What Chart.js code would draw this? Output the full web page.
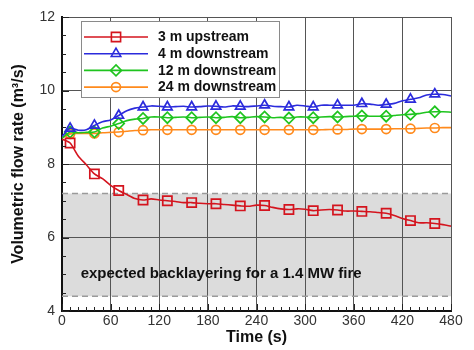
<!DOCTYPE html>
<html>
<head>
<meta charset="utf-8">
<script src="https://cdn.jsdelivr.net/npm/chart.js@4.4.1/dist/chart.umd.min.js"></script>
<style>
  html, body { margin: 0; padding: 0; background: #fff; }
  #wrap { width: 474px; height: 350px; }
</style>
</head>
<body>
<div id="wrap"><canvas id="chartCaudal"></canvas></div>
<script>
// ---------------------------------------------------------------
// Datos (tiempo en s, caudal en m3/s)
// ---------------------------------------------------------------
const times = [0, 10, 20, 30, 40, 50, 60, 70, 80, 90, 100, 110, 120, 130, 140, 150, 160,
    170, 180, 190, 200, 210, 220, 230, 240, 250, 260, 270, 280, 290, 300, 310, 320,
    330, 340, 350, 360, 370, 380, 390, 400, 410, 420, 430, 440, 450, 460, 470, 480];

const upstream3m = [8.68, 8.57, 8.22, 7.98, 7.73, 7.6, 7.42, 7.28, 7.17, 7.06, 7.02, 7.05,
    7.02, 7.0, 6.98, 6.95, 6.95, 6.93, 6.92, 6.92, 6.9, 6.88, 6.86, 6.85, 6.88, 6.87,
    6.82, 6.78, 6.76, 6.78, 6.77, 6.73, 6.75, 6.76, 6.75, 6.72, 6.72, 6.71, 6.7, 6.68,
    6.66, 6.6, 6.52, 6.46, 6.4, 6.4, 6.38, 6.35, 6.31];

const downstream4m = [8.75, 8.97, 8.92, 8.93, 9.05, 9.15, 9.2, 9.32, 9.45, 9.52, 9.55, 9.58,
    9.57, 9.55, 9.56, 9.57, 9.55, 9.56, 9.58, 9.57, 9.55, 9.58, 9.57, 9.56, 9.58, 9.6,
    9.57, 9.56, 9.55, 9.6, 9.58, 9.55, 9.6, 9.6, 9.6, 9.6, 9.6, 9.64, 9.63, 9.6,
    9.62, 9.65, 9.72, 9.76, 9.8, 9.88, 9.9, 9.89, 9.85];

const downstream12m = [8.7, 8.87, 8.85, 8.86, 8.87, 8.98, 9.03, 9.1, 9.18, 9.22, 9.24, 9.28,
    9.28, 9.26, 9.27, 9.28, 9.26, 9.27, 9.28, 9.26, 9.27, 9.29, 9.26, 9.27, 9.29, 9.28,
    9.26, 9.27, 9.25, 9.28, 9.28, 9.26, 9.28, 9.29, 9.28, 9.29, 9.3, 9.31, 9.3, 9.3,
    9.3, 9.32, 9.34, 9.35, 9.37, 9.41, 9.42, 9.42, 9.41];

const downstream24m = [8.72, 8.82, 8.83, 8.83, 8.83, 8.85, 8.86, 8.87, 8.89, 8.91, 8.92, 8.93,
    8.93, 8.93, 8.93, 8.93, 8.93, 8.93, 8.93, 8.93, 8.93, 8.93, 8.93, 8.93, 8.93, 8.93,
    8.93, 8.93, 8.93, 8.93, 8.93, 8.93, 8.93, 8.94, 8.94, 8.94, 8.95, 8.95, 8.95, 8.95,
    8.95, 8.96, 8.96, 8.96, 8.97, 8.98, 8.98, 8.99, 8.99];

// marcadores cada 30 s empezando en 10 s
const markerTimes = [10, 40, 70, 100, 130, 160, 190, 220, 250, 280, 310, 340, 370, 400, 430, 460];

const seriesLabels = ['3 m upstream', '4 m downstream', '12 m downstream', '24 m downstream'];

// banda de backlayering esperado
const bandTimes = [0, 480];
const bandUpper = [7.2, 7.2];
const bandLower = [4.4, 4.4];
const bandText = 'expected backlayering for a 1.4 MW fire';
const bandTextPos = [23, 5.0];

const xTicks = [0, 60, 120, 180, 240, 300, 360, 420, 480];
const yTicks = [4, 6, 8, 10, 12];

// ---------------------------------------------------------------
// Helpers
// ---------------------------------------------------------------
const FONT = "'Liberation Sans', Arial, Helvetica, sans-serif";

function toPoints(xs, ys) {
    return xs.map((x, i) => ({ x: x, y: ys[i] }));
}

function markerRadius(r) {
    return times.map(t => markerTimes.includes(t) ? r : 0);
}

function serie(label, values, color, style, radius) {
    return {
        label: label,
        data: toPoints(times, values),
        borderColor: color,
        borderWidth: 1.6,
        backgroundColor: 'transparent',
        pointStyle: style,
        pointRadius: markerRadius(radius),
        pointHoverRadius: 0,
        pointBorderColor: color,
        pointBackgroundColor: 'transparent',
        pointBorderWidth: 1.7,
        tension: 0.25,
        fill: false,
        order: 1
    };
}

// marcador manual para la leyenda
function drawMarker(ctx, style, x, y, r) {
    ctx.beginPath();
    if (style === 'rect') {
        const s = Math.SQRT1_2 * r;
        ctx.rect(x - s, y - s, 2 * s, 2 * s);
    } else if (style === 'triangle') {
        ctx.moveTo(x, y - r);
        ctx.lineTo(x + r * Math.sin(Math.PI / 3 * 2), y + r * 0.5);
        ctx.lineTo(x - r * Math.sin(Math.PI / 3 * 2), y + r * 0.5);
        ctx.closePath();
    } else if (style === 'rectRot') {
        ctx.moveTo(x, y - r);
        ctx.lineTo(x + r, y);
        ctx.lineTo(x, y + r);
        ctx.lineTo(x - r, y);
        ctx.closePath();
    } else {
        ctx.arc(x, y, r, 0, Math.PI * 2);
    }
    ctx.stroke();
}

// ---------------------------------------------------------------
// Plugins
// ---------------------------------------------------------------
const minorTicksPlugin = {
    id: 'minorTicks',
    afterDatasetsDraw(chart) {
        const { ctx, scales: { x, y }, chartArea: a } = chart;
        ctx.save();
        ctx.strokeStyle = '#222';
        ctx.lineWidth = 1;
        for (let v = 4; v <= 12; v += 0.5) {
            const py = Math.round(y.getPixelForValue(v)) + 0.5;
            const len = (v % 2 === 0) ? 7 : 4;
            ctx.beginPath();
            ctx.moveTo(a.left, py);
            ctx.lineTo(a.left + len, py);
            ctx.stroke();
        }
        for (let t = 0; t <= 480; t += 10) {
            const px = Math.round(x.getPixelForValue(t)) + 0.5;
            const len = (t % 60 === 0) ? 7 : 4;
            ctx.beginPath();
            ctx.moveTo(px, a.bottom);
            ctx.lineTo(px, a.bottom - len);
            ctx.stroke();
        }
        ctx.restore();
    }
};

const bandTextPlugin = {
    id: 'bandText',
    afterDatasetsDraw(chart) {
        const { ctx, scales: { x, y } } = chart;
        ctx.save();
        ctx.font = 'bold 15px ' + FONT;
        ctx.fillStyle = '#111';
        ctx.textAlign = 'left';
        ctx.textBaseline = 'middle';
        ctx.fillText(bandText, x.getPixelForValue(bandTextPos[0]), y.getPixelForValue(bandTextPos[1]));
        ctx.restore();
    }
};

const legendPlugin = {
    id: 'boxLegend',
    afterDraw(chart) {
        const ctx = chart.ctx;
        const box = { x: 81, y: 21, w: 198, h: 76 };
        ctx.save();
        ctx.fillStyle = '#fff';
        ctx.fillRect(box.x, box.y, box.w, box.h);
        ctx.strokeStyle = '#8a8a8a';
        ctx.lineWidth = 1;
        ctx.strokeRect(box.x + 0.5, box.y + 0.5, box.w, box.h);
        ctx.font = 'bold 14px ' + FONT;
        ctx.textBaseline = 'middle';
        ctx.textAlign = 'left';
        chart.data.datasets.slice(0, 4).forEach((ds, i) => {
            const yy = 37 + i * 16.7;
            ctx.strokeStyle = ds.borderColor;
            ctx.lineWidth = 1.6;
            ctx.beginPath();
            ctx.moveTo(84, yy);
            ctx.lineTo(148, yy);
            ctx.stroke();
            const r = Math.max.apply(null, ds.pointRadius);
            ctx.fillStyle = '#fff';
            drawMarker(ctx, ds.pointStyle, 116, yy, r);
            ctx.fillStyle = '#111';
            ctx.fillText(ds.label, 158, yy + 0.5);
        });
        ctx.restore();
    }
};

// ---------------------------------------------------------------
// Grafico
// ---------------------------------------------------------------
function initChart() {
    const canvas = document.getElementById('chartCaudal');

    new Chart(canvas.getContext('2d'), {
        type: 'line',
        data: {
            datasets: [
                serie(seriesLabels[0], upstream3m, '#d4141e', 'rect', 6.5),
                serie(seriesLabels[1], downstream4m, '#2b2bdc', 'triangle', 5.5),
                serie(seriesLabels[2], downstream12m, '#1fc41f', 'rectRot', 5.5),
                serie(seriesLabels[3], downstream24m, '#ff8a1c', 'circle', 4.5),
                {
                    label: 'band upper',
                    data: toPoints(bandTimes, bandUpper),
                    borderColor: '#9a9a9a',
                    borderWidth: 1.5,
                    borderDash: [6, 4],
                    backgroundColor: '#dcdcdc',
                    pointRadius: 0,
                    fill: { value: 4.4 },
                    order: 5
                },
                {
                    label: 'band lower',
                    data: toPoints(bandTimes, bandLower),
                    borderColor: '#9a9a9a',
                    borderWidth: 1.5,
                    borderDash: [6, 4],
                    pointRadius: 0,
                    fill: false,
                    order: 5
                }
            ]
        },
        options: {
            responsive: true,
            maintainAspectRatio: false,
            animation: false,
            events: [],
            layout: { padding: { top: 17, right: 23, left: 0, bottom: 0 } },
            plugins: {
                legend: { display: false },
                tooltip: { enabled: false },
                filler: { drawTime: 'beforeDraw' }
            },
            scales: {
                x: {
                    type: 'linear',
                    min: 0,
                    max: 480,
                    afterFit: (s) => { s.height = 39; },
                    afterBuildTicks: (s) => { s.ticks = xTicks.map(v => ({ value: v })); },
                    grid: { color: '#555', lineWidth: 1, drawTicks: false },
                    border: { color: '#111', width: 2 },
                    ticks: {
                        color: '#333',
                        padding: 2,
                        maxRotation: 0,
                        font: { family: FONT, size: 14 }
                    },
                    title: {
                        display: true,
                        text: 'Time (s)',
                        color: '#111',
                        padding: { top: 0, bottom: 3 },
                        font: { family: FONT, size: 16, weight: 'bold' }
                    }
                },
                y: {
                    type: 'linear',
                    min: 4,
                    max: 12,
                    afterFit: (s) => { s.width = 62; },
                    afterBuildTicks: (s) => { s.ticks = yTicks.map(v => ({ value: v })); },
                    grid: { color: '#555', lineWidth: 1, drawTicks: false },
                    border: { color: '#111', width: 2 },
                    ticks: {
                        color: '#333',
                        padding: 7,
                        font: { family: FONT, size: 14 }
                    },
                    title: {
                        display: true,
                        text: 'Volumetric flow rate (m³/s)',
                        color: '#111',
                        padding: { top: 9, bottom: 0 },
                        font: { family: FONT, size: 16, weight: 'bold' }
                    }
                }
            }
        },
        plugins: [minorTicksPlugin, bandTextPlugin, legendPlugin]
    });
}

if (document.readyState === 'loading') {
    document.addEventListener('DOMContentLoaded', initChart);
} else {
    initChart();
}
</script>
</body>
</html>
